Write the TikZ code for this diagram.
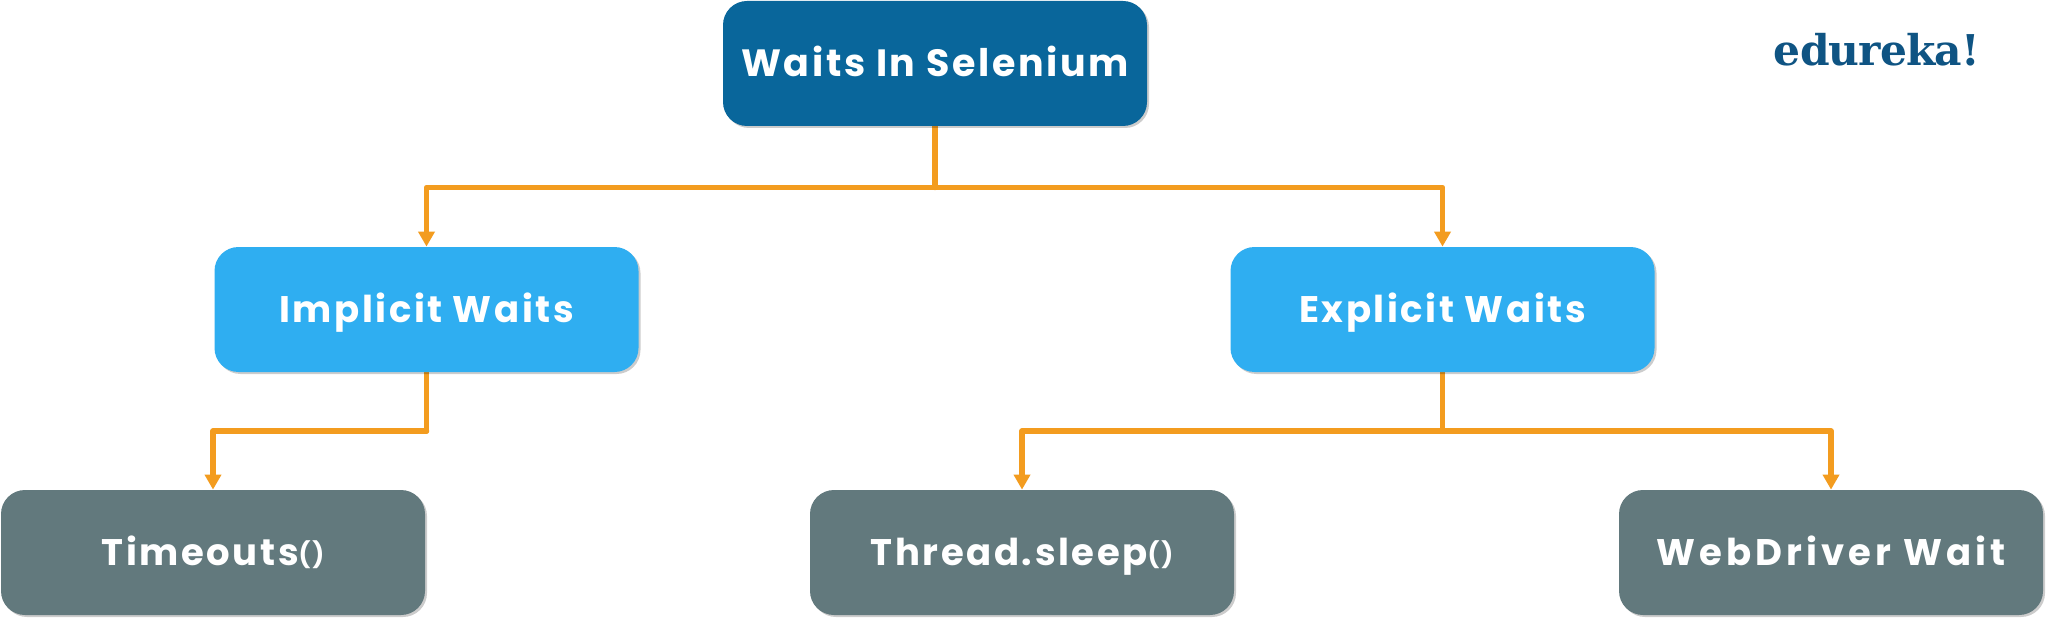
\documentclass[tikz,border=0pt]{standalone}
\usepackage{fontspec}
\newfontfamily\labelfont{Poppins Bold}[LetterSpace=7]
\newfontfamily\widefont{Poppins Bold}[LetterSpace=11]
\newfontfamily\logofont{DejaVu Serif Bold}[LetterSpace=-2]
\newcommand{\smallparens}{{\fontsize{12.5}{14}\selectfont\labelfont\raisebox{0.8pt}{()}}}
\usetikzlibrary{arrows.meta,shadows,backgrounds}
\definecolor{topblue}{HTML}{09669B}
\definecolor{midblue}{HTML}{2FAEF1}
\definecolor{leafgrey}{HTML}{62797D}
\definecolor{linkorange}{HTML}{F39C1F}
\definecolor{logoblue}{HTML}{0F5483}
\tikzset{
  x=0.5pt,y=-0.5pt,
  boxbase/.style={rounded corners=12pt,minimum width=212pt,minimum height=62.5pt,inner sep=0pt,
    text height=15pt,text depth=2pt,
    text=white,font=\labelfont\fontsize{18.5}{22}\selectfont,
    drop shadow={shadow xshift=1pt,shadow yshift=-1pt,fill=black,opacity=0.2}},
  rootbox/.style={boxbase,fill=topblue,font=\labelfont\fontsize{19}{23}\selectfont},
  midbox/.style={boxbase,fill=midblue},
  leafbox/.style={boxbase,fill=leafgrey},
  link/.style={draw=linkorange,line width=2.75pt,line join=round,line cap=round},
  arrowlink/.style={link,-{Triangle[length=7.5pt,width=8pt]}}
}
\begin{document}
\begin{tikzpicture}
\useasboundingbox (0,0) rectangle (2048,620);
\coordinate (bus1) at (935,187.5);
\coordinate (bus2) at (426.5,431);
\coordinate (bus3) at (1442.5,431);
\node[rootbox] (root) at (935,63.5) {Waits In Selenium};
\node[midbox] (implicit) at (426.5,309.5) {Implicit Waits};
\node[midbox] (explicit) at (1442.5,309.5) {Explicit Waits};
\node[leafbox] (timeouts) at (213,552.5) {Timeouts\smallparens};
\node[leafbox] (thread) at (1022,552.5) {Thread.sleep\smallparens};
\node[leafbox,font=\widefont\fontsize{18.5}{22}\selectfont] (webdriver) at (1831,552.5) {WebDriver Wait};
\node[text=logoblue,font=\logofont\fontsize{21.2}{25}\selectfont,inner sep=0pt] (logo) at (1877,50) {edureka!};
\begin{scope}[on background layer]
\fill[white] (0,0) rectangle (2048,620);
\draw[link] (root.south) -- (bus1);
\draw[link] (implicit.south) -- (bus2);
\draw[link] (explicit.south) -- (bus3);
\draw[arrowlink] (bus1) -| (implicit.north);
\draw[arrowlink] (bus1) -| (explicit.north);
\draw[arrowlink] (bus2) -| (timeouts.north);
\draw[arrowlink] (bus3) -| (thread.north);
\draw[arrowlink] (bus3) -| (webdriver.north);
\end{scope}
\end{tikzpicture}
\end{document}
